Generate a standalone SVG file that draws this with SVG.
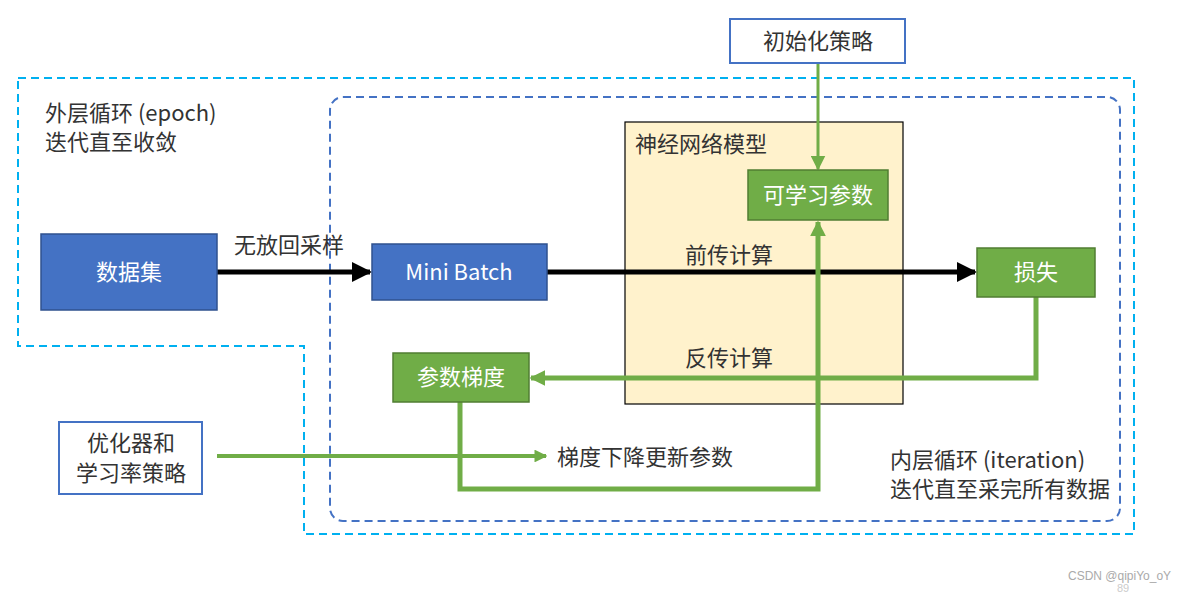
<svg xmlns="http://www.w3.org/2000/svg" width="1204" height="594" viewBox="0 0 1204 594">
<defs>
<style>
text{font-family:"Noto Sans CJK SC","Liberation Sans",sans-serif;}
.dk{fill:#333;font-size:22px}
.wt{fill:#fff;font-size:22px}
.blue{fill:#4472C4;stroke:#2F528F;stroke-width:1.5}
.green{fill:#70AD47;stroke:#507E32;stroke-width:1.5}
</style>
<marker id="ab" viewBox="0 0 10 10" refX="9" refY="5" markerWidth="4" markerHeight="4" orient="auto" markerUnits="strokeWidth"><path d="M0,0L10,5L0,10z" fill="#000"/></marker>
<marker id="ag" viewBox="0 0 10 10" refX="9" refY="5" markerWidth="3.2" markerHeight="3.2" orient="auto" markerUnits="strokeWidth"><path d="M0,0L10,5L0,10z" fill="#70AD47"/></marker>
<marker id="ag2" viewBox="0 0 10 10" refX="9" refY="5" markerWidth="5" markerHeight="5" orient="auto" markerUnits="strokeWidth"><path d="M0,0L10,5L0,10z" fill="#70AD47"/></marker>
</defs>
<rect width="1204" height="594" fill="#fff"/>
<g id="outer"><path d="M18,78H1134V534H304V346H18Z" fill="none" stroke="#00B0F0" stroke-width="2" stroke-dasharray="8,5"/>
<text class="dk" x="45" y="121">外层循环 (epoch)</text><text class="dk" x="45" y="150">迭代直至收敛</text></g>
<g id="inner"><rect x="330" y="97" width="790" height="424" rx="13" fill="none" stroke="#4472C4" stroke-width="2" stroke-dasharray="8,5"/>
<text class="dk" x="890" y="468" font-size="18">内层循环 (iteration)</text><text class="dk" x="890" y="497" font-size="18">迭代直至采完所有数据</text></g>
<g id="nn"><rect x="625" y="122" width="278" height="282" fill="#FFF2CC" stroke="#000" stroke-width="1.2"/>
<text class="dk" x="635" y="152" font-size="25">神经网络模型</text></g>
<g id="connectors" fill="none">
<line x1="217" y1="272" x2="370" y2="272" stroke="#000" stroke-width="5" marker-end="url(#ab)"/>
<line x1="547" y1="272" x2="975" y2="272" stroke="#000" stroke-width="5" marker-end="url(#ab)"/>
<line x1="818" y1="63" x2="818" y2="169" stroke="#70AD47" stroke-width="3" marker-end="url(#ag2)"/>
<polyline points="1036,297 1036,378 531,378" stroke="#70AD47" stroke-width="5" marker-end="url(#ag)"/>
<polyline points="460,402 460,489 818,489 818,222" stroke="#70AD47" stroke-width="5" marker-end="url(#ag)"/>
<line x1="217" y1="456" x2="546" y2="456" stroke="#70AD47" stroke-width="4" marker-end="url(#ag)"/>
<text class="dk" x="234" y="253" stroke="none">无放回采样</text>
<text class="dk" x="685" y="263" stroke="none">前传计算</text>
<text class="dk" x="685" y="366" stroke="none">反传计算</text>
<text class="dk" x="557" y="465" stroke="none">梯度下降更新参数</text>
</g>
<g id="dataset"><rect class="blue" x="41" y="234" width="176" height="76"/><text class="wt" x="129" y="280" text-anchor="middle">数据集</text></g>
<g id="minibatch"><rect class="blue" x="372" y="244" width="175" height="56"/><text class="wt" x="459" y="280" text-anchor="middle">Mini Batch</text></g>
<g id="loss"><rect class="green" x="977" y="248" width="118" height="49"/><text class="wt" x="1036" y="280" text-anchor="middle">损失</text></g>
<g id="params"><rect class="green" x="748" y="170" width="140" height="50"/><text class="wt" x="818" y="203" text-anchor="middle">可学习参数</text></g>
<g id="grad"><rect class="green" x="393" y="353" width="136" height="49"/><text class="wt" x="461" y="385" text-anchor="middle">参数梯度</text></g>
<g id="init"><rect x="730" y="19" width="175" height="44" fill="#fff" stroke="#4472C4" stroke-width="2"/><text class="dk" x="818" y="49" text-anchor="middle">初始化策略</text></g>
<g id="optim"><rect x="59" y="422" width="143" height="72" fill="#fff" stroke="#4472C4" stroke-width="2"/><text class="dk" x="131" y="451" text-anchor="middle">优化器和</text><text class="dk" x="131" y="481" text-anchor="middle">学习率策略</text></g>
<text x="1117" y="592" font-size="11" fill="#ccc" style="font-family:'Liberation Sans',sans-serif">89</text>
<text x="1068" y="580" font-size="12" fill="#aaa" style="font-family:'Liberation Sans',sans-serif">CSDN @qipiYo_oY</text>
</svg>
